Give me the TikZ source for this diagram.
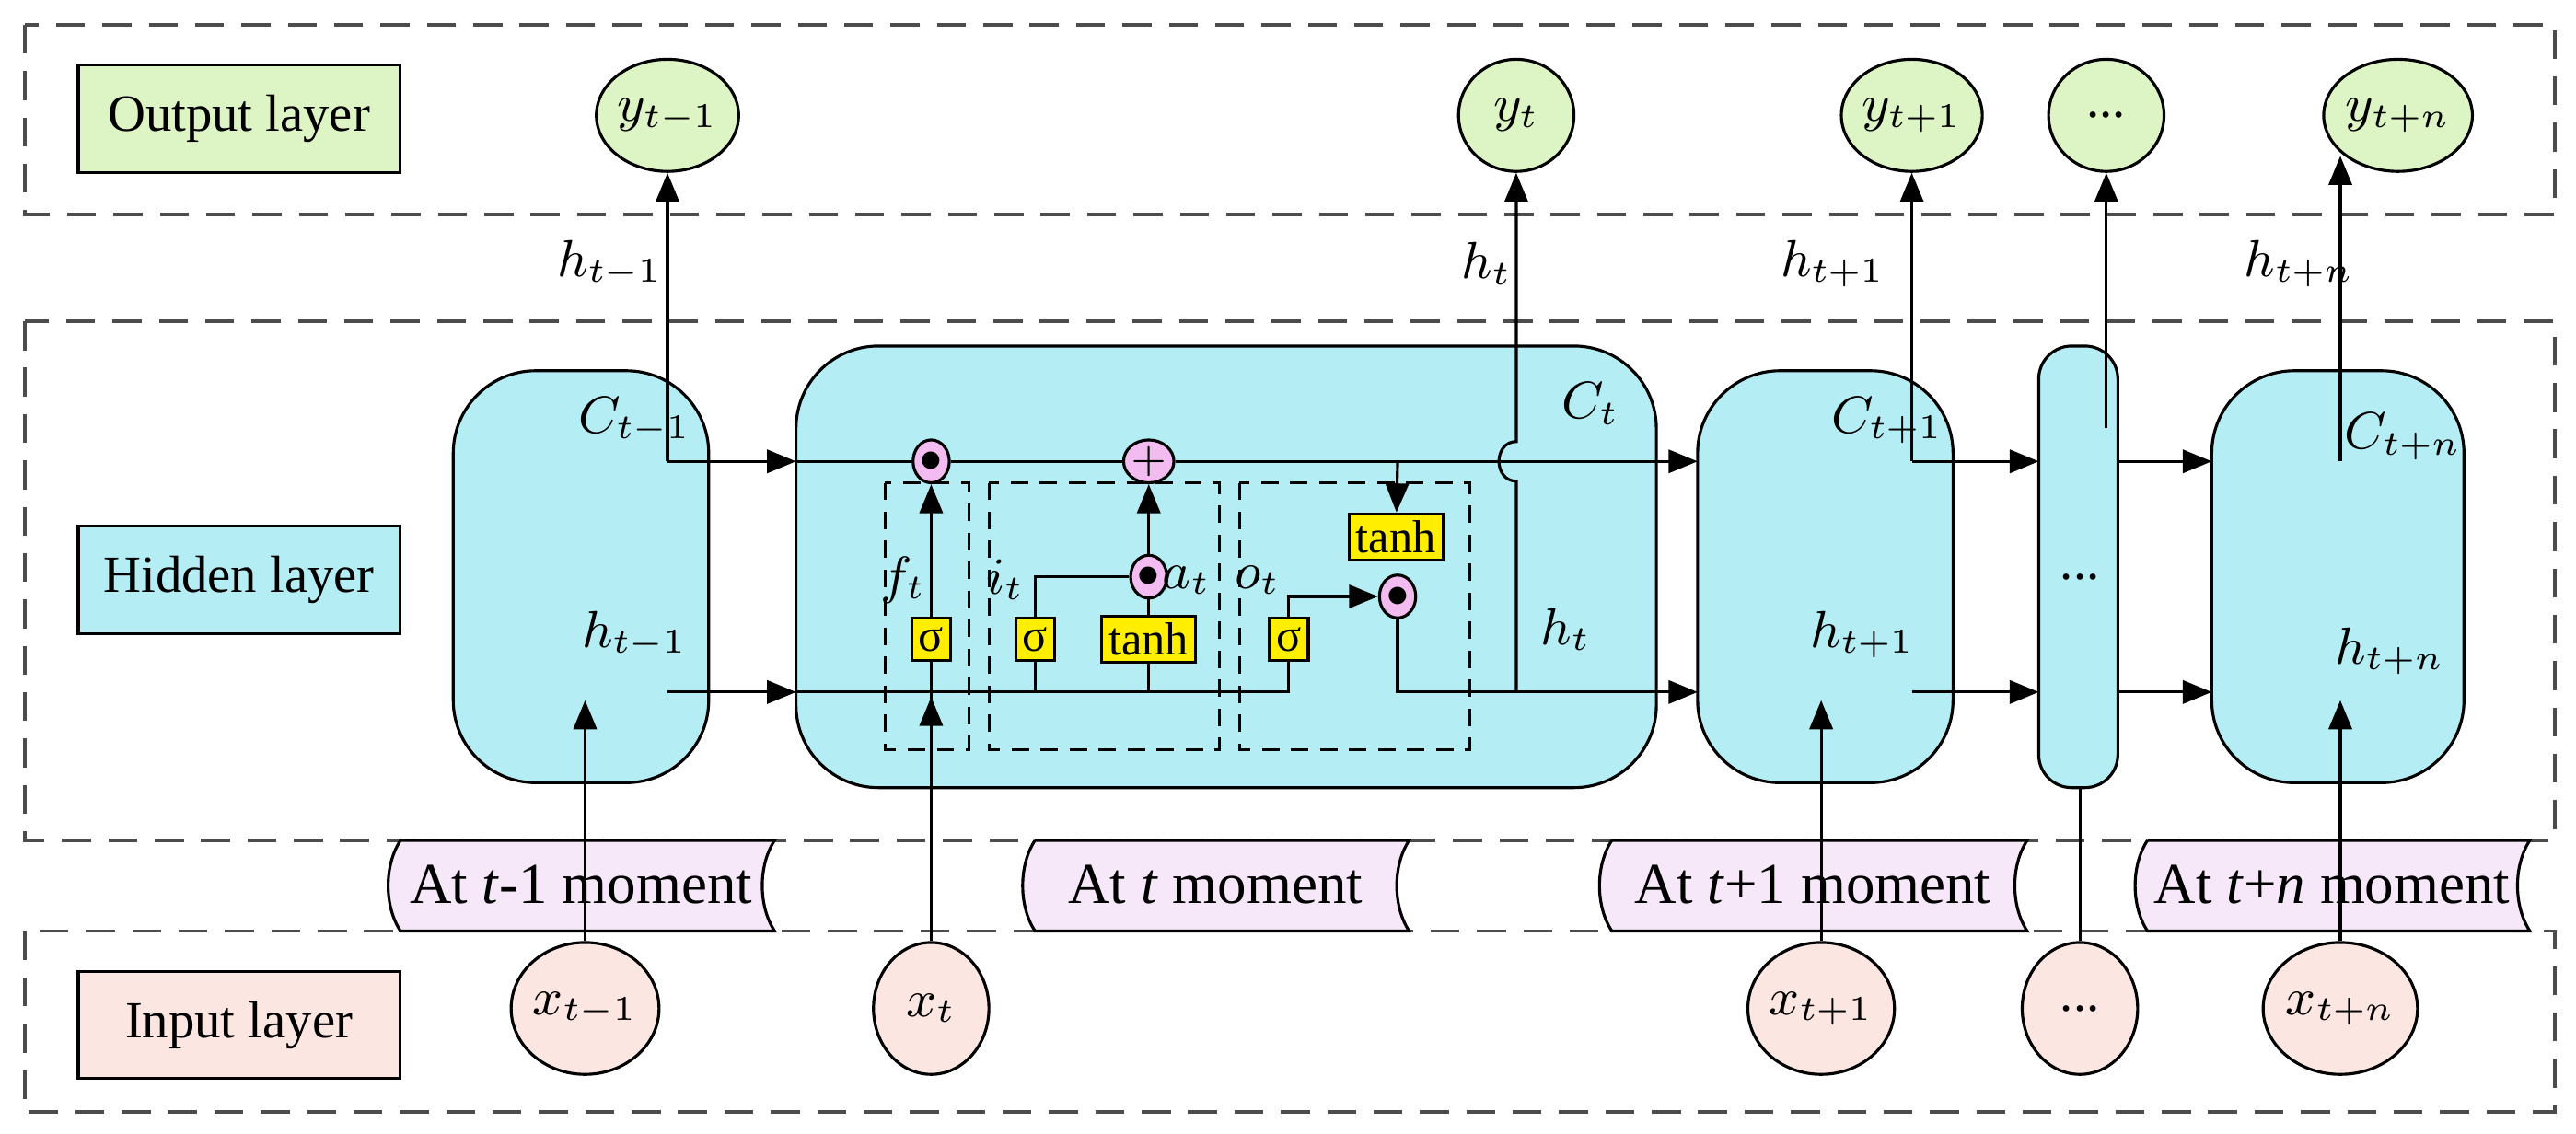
\documentclass[tikz,border=0pt]{standalone}
\usepackage{fontspec}
\setmainfont{Liberation Serif}
\usetikzlibrary{shapes.geometric,arrows.meta}
\definecolor{cy}{HTML}{B4EEF4}
\definecolor{gr}{HTML}{DDF5C4}
\definecolor{pk}{HTML}{FCE6E2}
\definecolor{mo}{HTML}{F6E8F8}
\definecolor{ye}{HTML}{FFEE00}
\definecolor{mg}{HTML}{F2BCF0}
\begin{document}
\begin{tikzpicture}[x=0.01cm,y=-0.01cm,font=\fontsize{9}{11}\selectfont,
 >={Triangle[length=5pt,width=4pt]}, line width=0.5pt,
 dbox/.style={draw=black!70,dashed,dash pattern=on 5pt off 3pt,line width=0.6pt},
 lay/.style={draw,minimum width=1.95cm,minimum height=0.65cm},
 cell/.style={draw,fill=cy,rounded corners=0.5cm},
 onode/.style={ellipse,draw,fill=gr,minimum width=0.7cm,minimum height=0.68cm,inner sep=0pt},
 inode/.style={ellipse,draw,fill=pk,minimum width=0.7cm,minimum height=0.8cm,inner sep=0pt},
 yb/.style={draw,fill=ye,inner sep=1.2pt,minimum height=0.26cm,font=\fontsize{8}{9}\selectfont},
 op/.style={ellipse,draw,fill=mg,minimum width=0.22cm,minimum height=0.26cm,inner sep=0pt,font=\fontsize{7}{7}\selectfont},
 gd/.style={draw,dashed,dash pattern=on 3pt off 2pt}]
\useasboundingbox (0,0) rectangle (1563,688);
% layers
\draw[dbox] (15,15) rectangle (1550,130);
\draw[dbox] (15,195) rectangle (1550,510);
\draw[dbox] (15,565) rectangle (1550,675);
\node[lay,fill=gr] (OL) at (145,72) {Output layer};
\node[lay,fill=cy] (HL) at (145,352) {Hidden layer};
\node[lay,fill=pk] (IL) at (145,622) {Input layer};
% cells
\draw[cell] (275,225) rectangle (430,475);
\draw[cell] (483,210) rectangle (1005,478);
\draw[cell] (1030,225) rectangle (1185,475);
\draw[cell,rounded corners=0.2cm] (1237,210) rectangle (1285,478);
\draw[cell] (1342,225) rectangle (1495,475);
\node at (1262,350) {...};
% outputs
\node[onode] (y1) at (405,70) {$y_{t-1}$};
\node[onode] (y2) at (920,70) {$y_{t}$};
\node[onode] (y3) at (1160,70) {$y_{t+1}$};
\node[onode] (y4) at (1278,70) {...};
\node[onode] (y5) at (1455,70) {$y_{t+n}$};
% inputs
\node[inode] (x1) at (355,612) {$x_{t-1}$};
\node[inode] (x2) at (565,612) {$x_{t}$};
\node[inode] (x3) at (1105,612) {$x_{t+1}$};
\node[inode] (x4) at (1262,612) {...};
\node[inode] (x5) at (1420,612) {$x_{t+n}$};
% moment banners
\foreach \a/\b/\n/\t in {235/470/m1/{At \textit{t}-1 moment},620/855/m2/{At \textit{t} moment},970/1230/m3/{At \textit{t}+1 moment},1295/1535/m4/{At \textit{t}+\textit{n} moment}}{
 \draw[fill=mo] (\a+8,510) -- (\b,510) .. controls (\b-10,525) and (\b-10,550) .. (\b,565) -- (\a+8,565) .. controls (\a-2,550) and (\a-2,525) .. (\a+8,510);
 \node (\n) at ({(\a+\b)/2},537) {\fontsize{10}{12}\selectfont\t};}
% labels
\node at (385,255) {$C_{t-1}$};
\node at (385,385) {$h_{t-1}$};
\node at (965,245) {$C_{t}$};
\node at (950,382) {$h_{t}$};
\node at (1145,255) {$C_{t+1}$};
\node at (1130,385) {$h_{t+1}$};
\node at (1458,265) {$C_{t+n}$};
\node at (1450,395) {$h_{t+n}$};
\node at (370,160) {$h_{t-1}$};
\node at (902,160) {$h_{t}$};
\node at (1112,160) {$h_{t+1}$};
\node at (1395,160) {$h_{t+n}$};
% cell1 connections
\coordinate (c1) at (405,280); \coordinate (h1) at (405,420);
\draw[->] (c1) -- (y1);
\draw[->] (c1) -- (483,280);
\draw[->] (h1) -- (483,420);
\draw[->] (x1) -- (355,425);
% cell 2 internals
\node[op] (f) at (565,280) {$\bullet$};
\node[op] (p) at (697,280) {$+$};
\node[op] (a) at (697,350) {$\bullet$};
\node[op] (o) at (848,362) {$\bullet$};
\node[yb] (sf) at (565,388) {σ};
\node[yb] (si) at (628,388) {σ};
\node[yb] (ta) at (697,388) {tanh};
\node[yb] (so) at (782,388) {σ};
\node[yb] (tc) at (847,326) {tanh};
\draw[gd] (537,293) rectangle (588,455);
\draw[gd] (600,293) rectangle (740,455);
\draw[gd] (752,293) rectangle (892,455);
\node at (548,352) {$f_t$};
\node at (610,352) {$i_t$};
\node at (720,352) {$a_t$};
\node at (763,352) {$o_t$};
\draw (483,280) -- (f) -- (p) -- (905,280);
\draw (905,280) -- (920,280);
\draw[->] (920,280) -- (1030,280);
\draw[->] (848,280) -- (tc);
\draw (483,420) -- (782,420) -- (so);
\draw (si) -- (628,420);
\draw (ta) -- (697,420);
\draw (x2) -- (sf);
\draw[->] (x2) -- (565,423);
\draw[->] (sf) -- (f);
\draw (si) -- (628,350) -- (a);
\draw (ta) -- (a);
\draw[->] (a) -- (p);
\draw[->] (so) -- (782,362) -- (o);
\draw (o) -- (848,420) -- (920,420);
\draw[->] (920,420) -- (1030,420);
\draw[->] (920,420) -- (920,292) .. controls (906,292) and (906,268) .. (920,268) -- (y2);
% cell 3
\coordinate (c3) at (1160,280); \coordinate (h3) at (1160,420);
\draw[->] (c3) -- (y3);
\draw[->] (c3) -- (1237,280);
\draw[->] (h3) -- (1237,420);
\draw[->] (x3) -- (1105,425);
% cell 4
\draw[->] (1278,260) -- (y4);
\draw[->] (1285,280) -- (1342,280);
\draw[->] (1285,420) -- (1342,420);
\draw (x4) -- (1262,478);
% cell 5
\coordinate (c5) at (1420,280);
\draw[->] (c5) -- (c5 |- y5.south west);
\draw[->] (x5) -- (1420,425);
\end{tikzpicture}
\end{document}
